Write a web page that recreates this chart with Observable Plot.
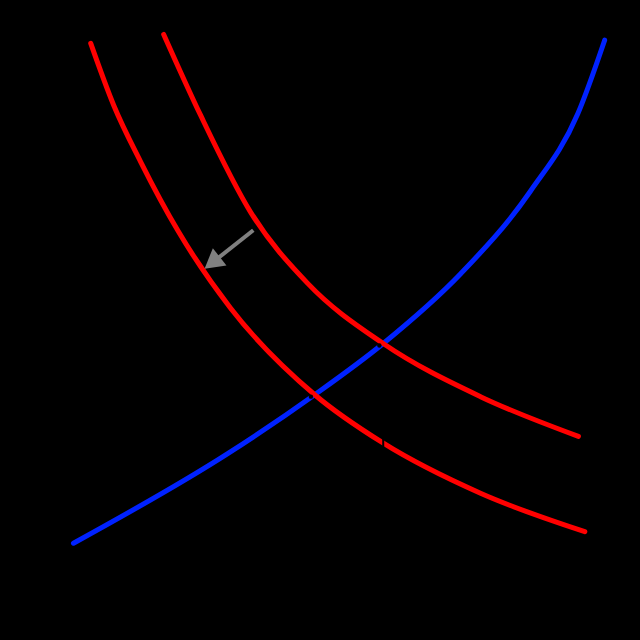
<!DOCTYPE html>
<html>
<head>
<meta charset="utf-8">
<script src="https://cdn.jsdelivr.net/npm/d3@7"></script>
<script src="https://cdn.jsdelivr.net/npm/@observablehq/plot@0.6"></script>
<style>
  html, body { margin: 0; padding: 0; background: #000; }
  #chart svg { display: block; }
</style>
</head>
<body>
<div id="chart"></div>
<script>
// Demand curve after the shift (left red)
const demand1Q = [1.41, 1.77, 2.19, 2.78, 3.59, 4.91, 5.97, 7.50, 9.13];
const demand1P = [9.33, 8.36, 7.48, 6.39, 5.20, 3.84, 3.09, 2.30, 1.70];
// Original demand curve (right red)
const demand2Q = [2.55, 3.13, 3.91, 4.80, 5.98, 7.50, 9.03];
const demand2P = [9.47, 8.20, 6.69, 5.58, 4.64, 3.81, 3.19];
// Supply curve (blue)
const supplyQ = [1.14, 3.55, 4.91, 5.98, 7.19, 8.28, 9.02, 9.44];
const supplyP = [1.52, 2.92, 3.84, 4.64, 5.73, 7.02, 8.23, 9.38];
// Shift arrow (start, tip)
const arrowQ = [3.95, 3.19];
const arrowP = [6.41, 5.81];
// Equilibria
const eqQ = [4.91, 5.98];
const eqP = [3.84, 4.64];

const zip = (qs, ps) => qs.map((q, i) => ({q, p: ps[i]}));
const d1 = zip(demand1Q, demand1P);
const d2 = zip(demand2Q, demand2P);
const s = zip(supplyQ, supplyP);
const eq = zip(eqQ, eqP);

// arrow shaft and triangular head
const dx = arrowQ[1] - arrowQ[0], dy = arrowP[1] - arrowP[0];
const arrowLine = [{q1: arrowQ[0], p1: arrowP[0], q2: arrowQ[0] + dx * 0.76, p2: arrowP[0] + dy * 0.76}];
const head = [{q: arrowQ[0] + dx * 0.795, p: arrowP[0] + dy * 0.795}];

const chart = Plot.plot({
  width: 640,
  height: 640,
  margin: 0,
  style: {background: "#000"},
  x: {domain: [0, 10], axis: null},
  y: {domain: [0, 10], axis: null},
  marks: [
    Plot.line(s, {x: "q", y: "p", stroke: "#0022ff", strokeWidth: 5, curve: "monotone-x"}),
    Plot.line(d2, {x: "q", y: "p", stroke: "#ff0000", strokeWidth: 5, curve: "monotone-x"}),
    Plot.line(d1, {x: "q", y: "p", stroke: "#ff0000", strokeWidth: 5, curve: "monotone-x"}),
    Plot.ruleX([eqQ[1]], {y1: 0, y2: eqP[1] - 0.1, stroke: "#000", strokeWidth: 2}),
    Plot.dot(eq, {x: d => d.q - 0.06, y: d => d.p - 0.03, r: 2.2, fill: "#000"}),
    Plot.link(arrowLine, {x1: "q1", y1: "p1", x2: "q2", y2: "p2", stroke: "#808080", strokeWidth: 4}),
    Plot.dot(head, {x: "q", y: "p", symbol: "triangle", r: 8.2, fill: "#808080", rotate: 232})
  ]
});
document.getElementById("chart").append(chart);
</script>
</body>
</html>
